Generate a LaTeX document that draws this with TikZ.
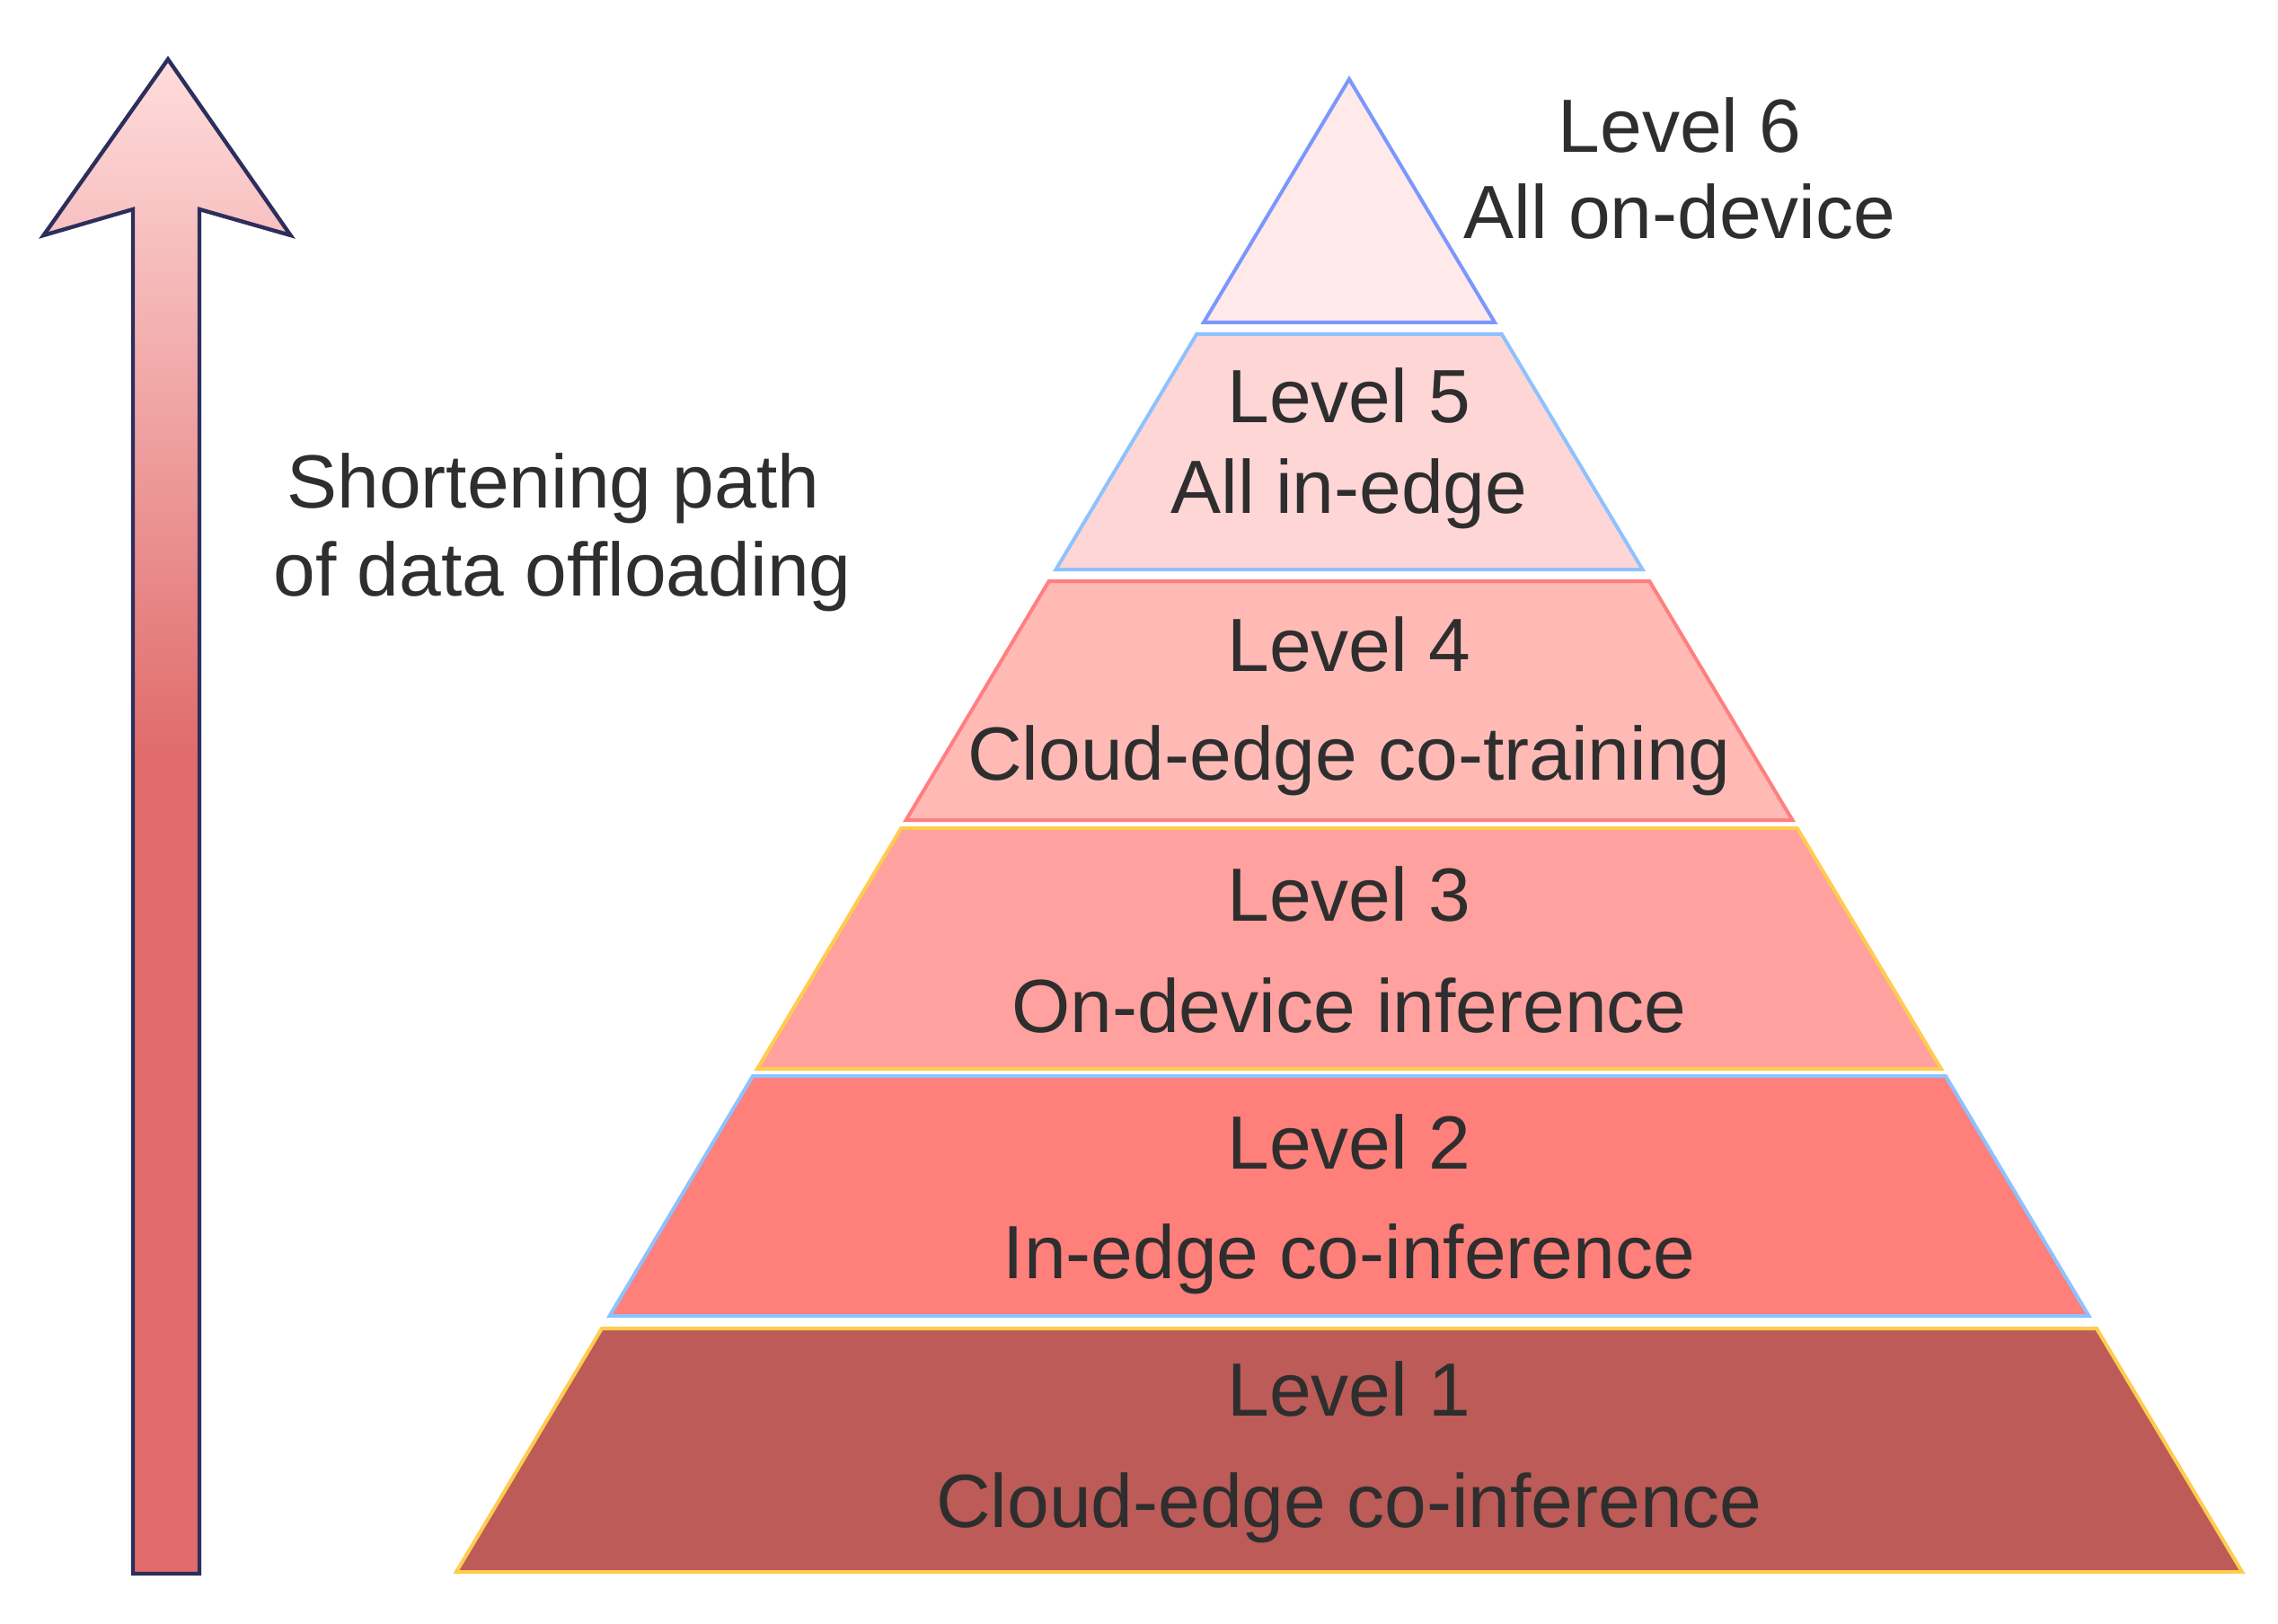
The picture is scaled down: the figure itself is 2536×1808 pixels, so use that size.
\documentclass[tikz,border=0pt]{standalone}
\usepackage{fontspec}
\setmainfont{Liberation Sans}
\definecolor{arrred}{HTML}{E06C6B}
\definecolor{arrpink}{HTML}{FFDCDC}
\definecolor{navy}{HTML}{2C2E5C}
\definecolor{txt}{HTML}{2E2E2E}
\definecolor{fsix}{HTML}{FFE9E9}\definecolor{ssix}{HTML}{7B96FF}
\definecolor{ffive}{HTML}{FFD6D6}\definecolor{sfive}{HTML}{8EC1FF}
\definecolor{ffour}{HTML}{FFBAB6}\definecolor{sfour}{HTML}{FF7F7F}
\definecolor{fthree}{HTML}{FFA19E}\definecolor{sthree}{HTML}{FFCC4D}
\definecolor{ftwo}{HTML}{FF7F7A}\definecolor{stwo}{HTML}{8EC1FF}
\definecolor{fone}{HTML}{BC5B57}\definecolor{sone}{HTML}{FFCC4D}
\pgfdeclareverticalshading{arrowshade}{100bp}{color(0bp)=(arrred); color(52bp)=(arrred); color(75bp)=(arrpink); color(100bp)=(arrpink)}
\begin{document}
\begin{tikzpicture}[x=0.5pt,y=-0.5pt,
  lbl/.style={font=\fontsize{42}{48}\selectfont, text=txt, anchor=base, inner sep=0pt},
  lvl/.style={line width=2pt, line join=miter}]
\useasboundingbox (0,0) rectangle (2536,1808);
% arrow
\shadedraw[shading=arrowshade, draw=navy, line width=2.2pt, line join=miter]
  (187,66) -- (323.5,262) -- (222,233) -- (222,1752) -- (148,1752) -- (148,233) -- (48.5,262) -- cycle;
\node[lbl] (arrA) at (616,565) {Shortening path};
\node[lbl] (arrB) at (626,663) {of data offloading};
% pyramid
\filldraw[lvl, fill=fsix, draw=ssix] (1502,88) -- (1664,359) -- (1340,359) -- cycle;
\filldraw[lvl, fill=ffive, draw=sfive] (1332.2,372) -- (1671.8,372) -- (1828.5,634) -- (1175.5,634) -- cycle;
\filldraw[lvl, fill=ffour, draw=sfour] (1167.7,647) -- (1836.3,647) -- (1995.4,913) -- (1008.6,913) -- cycle;
\filldraw[lvl, fill=fthree, draw=sthree] (1003.3,922) -- (2000.7,922) -- (2161,1190) -- (843,1190) -- cycle;
\filldraw[lvl, fill=ftwo, draw=stwo] (838,1198) -- (2166,1198) -- (2325.4,1465) -- (678.6,1465) -- cycle;
\filldraw[lvl, fill=fone, draw=sone] (670,1479) -- (2334,1479) -- (2496,1750) -- (508,1750) -- cycle;
% labels
\node[lbl] (l6a) at (1870,170) {Level 6};
\node[lbl] (l6b) at (1870,266) {All on-device};
\node[lbl] (l5a) at (1502,470) {Level 5};
\node[lbl] (l5b) at (1502,571) {All in-edge};
\node[lbl] (l4a) at (1502,747) {Level 4};
\node[lbl] (l4b) at (1502,868) {Cloud-edge co-training};
\node[lbl] (l3a) at (1502,1025) {Level 3};
\node[lbl] (l3b) at (1502,1149) {On-device inference};
\node[lbl] (l2a) at (1502,1301) {Level 2};
\node[lbl] (l2b) at (1502,1423) {In-edge co-inference};
\node[lbl] (l1a) at (1502,1576) {Level 1};
\node[lbl] (l1b) at (1502,1700) {Cloud-edge co-inference};
\end{tikzpicture}
\end{document}
